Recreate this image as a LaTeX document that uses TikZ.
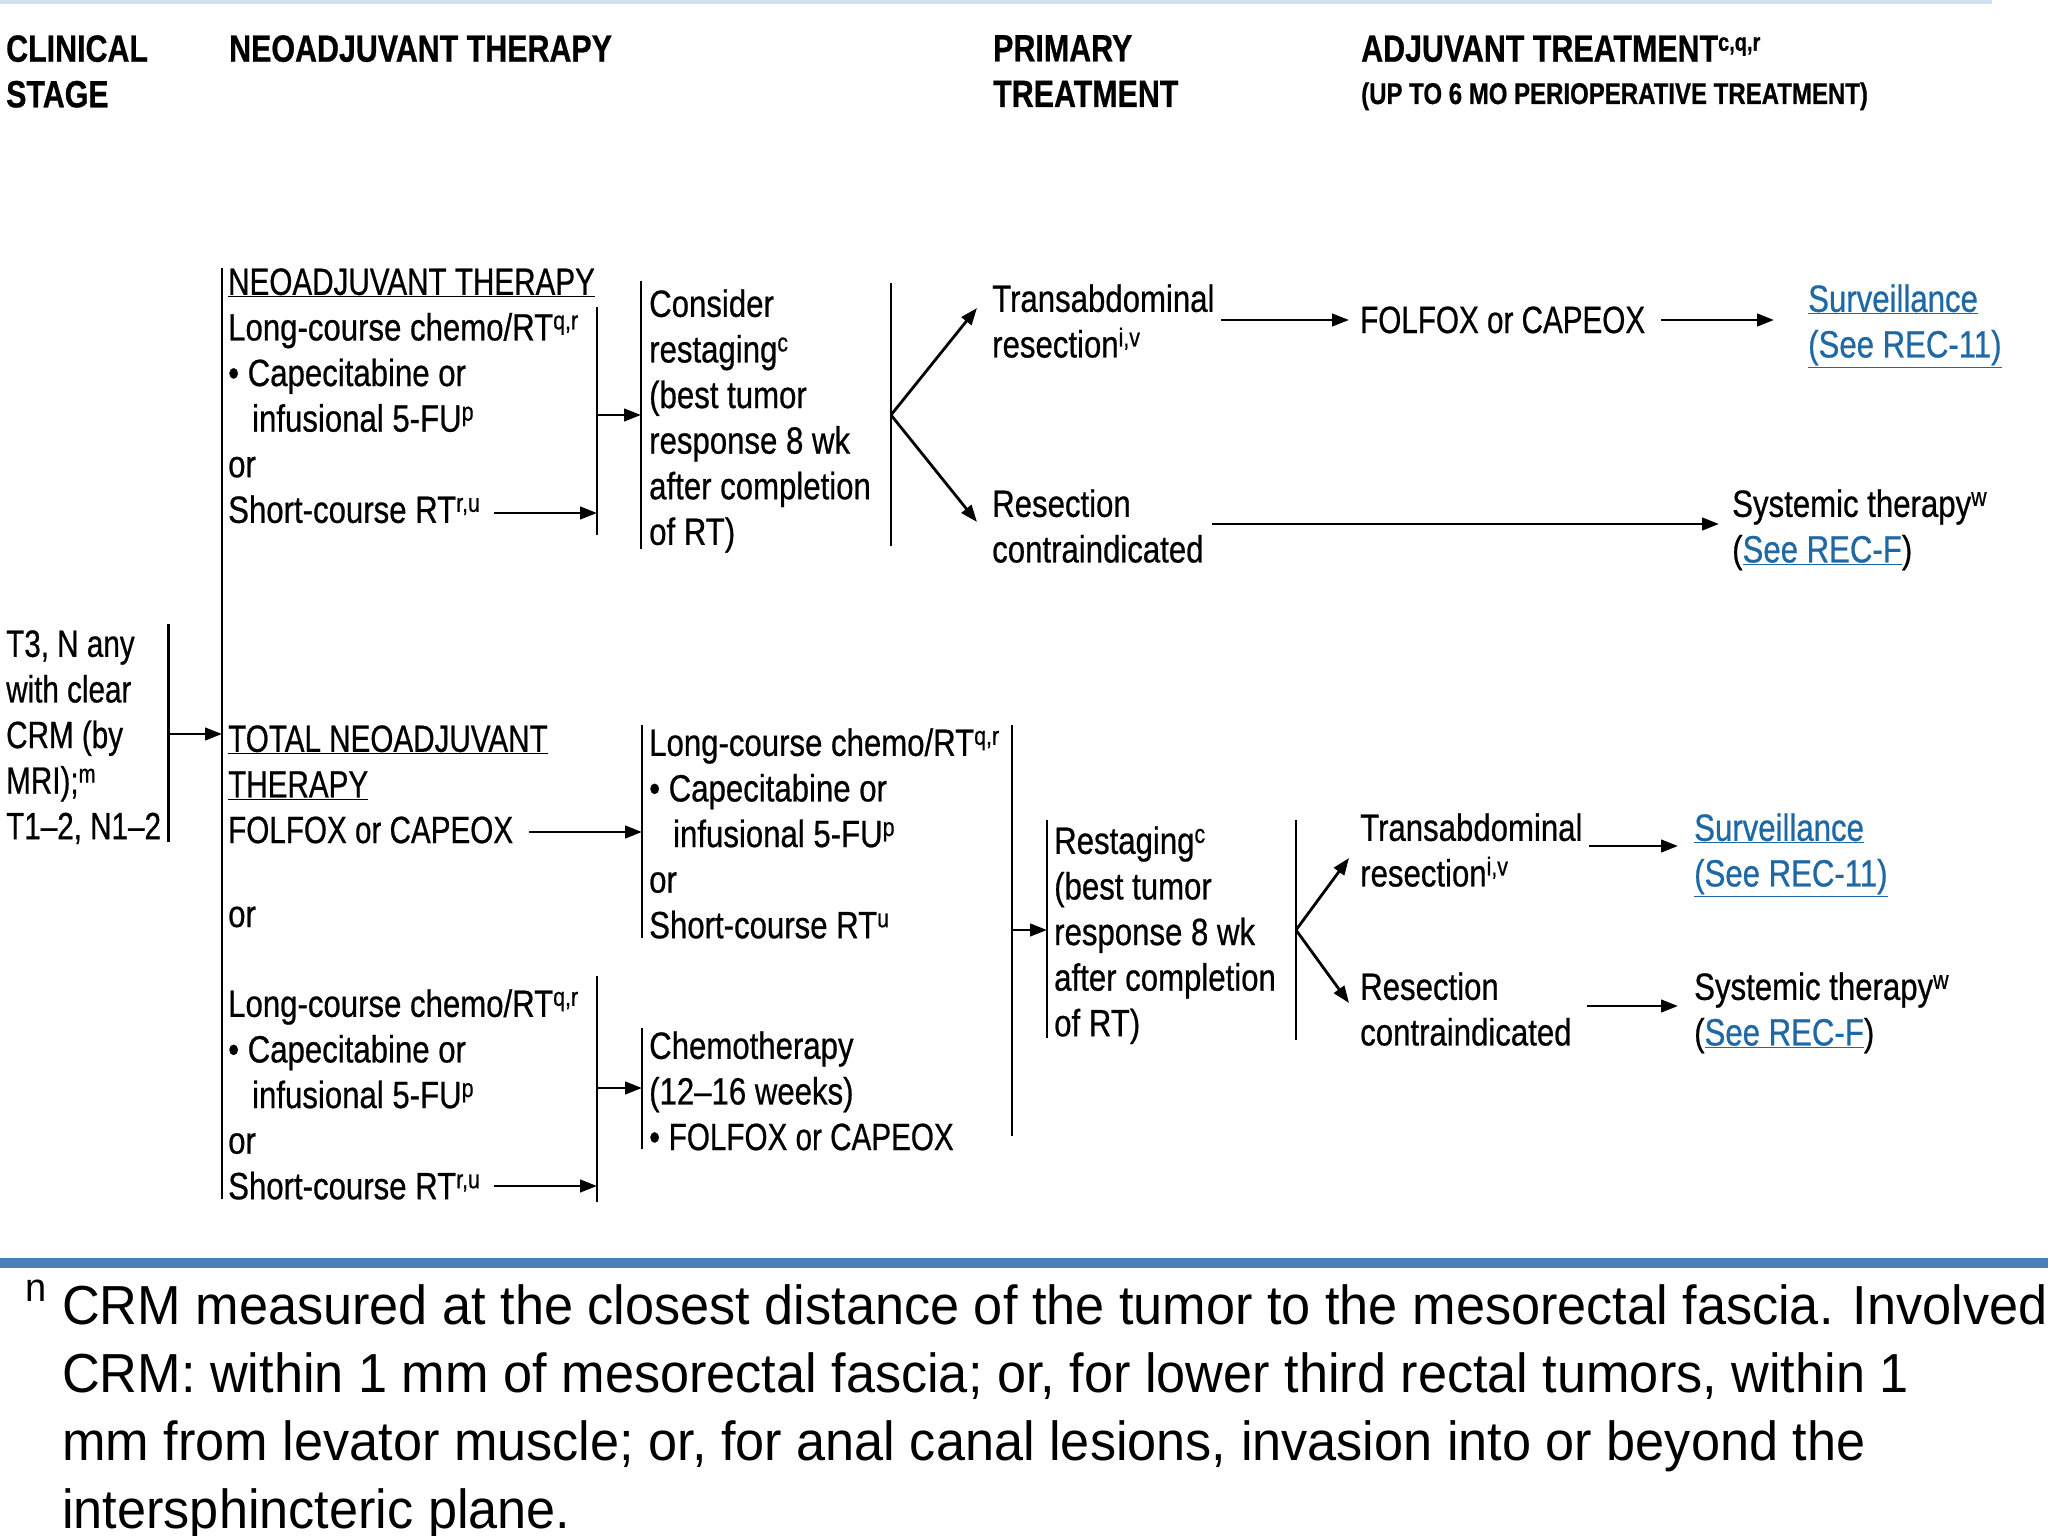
\documentclass[tikz,border=0pt]{standalone}
\usepackage{fontspec}
\setmainfont{Liberation Sans}[FakeStretch=0.82,FakeBold=0.6]
\newfontfamily\narrowfont{Liberation Sans}[FakeStretch=0.78,FakeBold=0.6,Ligatures=TeX]
\newfontfamily\headfont{Liberation Sans}[FakeStretch=0.80,FakeBold=0.6,Ligatures=TeX]
\newfontfamily\footfont{Liberation Sans}[FakeStretch=0.95]
\usetikzlibrary{arrows.meta}
\definecolor{linkblue}{RGB}{30,105,165}
\definecolor{bandblue}{RGB}{74,126,187}
\definecolor{topline}{RGB}{205,225,240}
\newcommand{\lnk}[1]{\textcolor{linkblue}{\underline{#1}}}
\newcommand{\sups}[1]{\raisebox{11pt}{\fontsize{26}{26}\selectfont #1}}
\newcommand{\hsups}[1]{\raisebox{11pt}{\fontsize{25}{25}\selectfont #1}}
\newcommand{\bul}{\hspace*{0.63em}}
\newcommand{\ul}[1]{\underline{{\narrowfont #1}}}
\begin{document}
\begin{tikzpicture}[x=1pt,y=-1pt,
  blockbase/.style={anchor=north west,inner sep=0pt,align=left,execute at begin node=\strut},
  body/.style={blockbase,font=\fontsize{38}{45.6}\selectfont,yshift=26.9pt},
  line/.style={anchor=base west,inner sep=0pt,font=\fontsize{38}{45.6}\selectfont},
  head/.style={blockbase,font=\headfont\fontsize{38}{45.6}\selectfont\bfseries,yshift=28pt},
  hline/.style={anchor=base west,inner sep=0pt,font=\headfont\fontsize{38}{45.6}\selectfont\bfseries},
  brk/.style={line width=2.2pt},
  arr/.style={line width=2.8pt,-{Triangle[length=17pt,width=12.5pt]}},
  foot/.style={anchor=north west,inner sep=0pt,align=left,font=\footfont\fontsize{55}{68}\selectfont,yshift=41.1pt,execute at begin node=\strut}]
\useasboundingbox (0,0) rectangle (2048,1536);
\fill[white] (0,0) rectangle (2048,1536);
\draw[topline,line width=4pt] (0,2) -- (1992,2);

% headers
\node[head] (hcs) at (6,63) {CLINICAL\\STAGE};
\node[hline] (hneo) at (229,61.7) {NEOADJUVANT THERAPY};
\node[head] (hpt) at (993,63) {PRIMARY\\TREATMENT};
\node[hline] (hadj) at (1361,61.7) {ADJUVANT TREATMENT\hsups{c,q,r}};
\node[anchor=base west,inner sep=0pt,font=\headfont\fontsize{30}{32}\selectfont\bfseries] (hup) at (1361,104) {(UP TO 6 MO PERIOPERATIVE TREATMENT)};

% clinical stage
\node[body,font=\narrowfont\fontsize{38}{45.6}\selectfont] (stage) at (6,657) {T3, N any\\with clear\\CRM (by\\MRI);\sups{m}\\T1–2, N1–2};
\draw[brk] (168.5,624) coordinate (v0t) -- (168.5,842) coordinate (v0b);
\draw[brk] (222,268) coordinate (v1t) -- (222,1199) coordinate (v1b);
\coordinate (a0) at (168.5,734);
\draw[arr] (a0) -- (a0 -| v1t);

% top branch
\node[body] (neo) at (228,295) {\ul{NEOADJUVANT THERAPY}\\Long-course chemo/RT\sups{q,r}\\\textbullet\ Capecitabine or\\\bul infusional 5-FU\sups{p}\\or\\Short-course RT\sups{r,u}};
\draw[brk] (597,307) coordinate (v2t) -- (597,535) coordinate (v2b);
\coordinate (s1) at (494,513);
\draw[arr] (s1) -- (s1 -| v2t);
\draw[brk] (641,281) coordinate (v3t) -- (641,549) coordinate (v3b);
\coordinate (m1) at (597,415);
\draw[arr] (m1) -- (m1 -| v3t);
\node[body] (cons) at (649,316) {Consider\\restaging\sups{c}\\(best tumor\\response 8 wk\\after completion\\of RT)};
\draw[brk] (891,283) coordinate (v4t) -- (891,546) coordinate (v4b);
\coordinate (b1) at (891,415);
\coordinate (b1u) at (977,308);
\coordinate (b1d) at (977,522);
\draw[arr] (b1) -- (b1u);
\draw[arr] (b1) -- (b1d);
\node[body] (tr1) at (992,311) {Transabdominal\\resection\sups{i,v}};
\node[line,font=\narrowfont\fontsize{38}{45.6}\selectfont] (fol1) at (1360,333) {FOLFOX or CAPEOX};
\coordinate (t1a) at (1221,320);
\coordinate (t1b) at (1349,320);
\draw[arr] (t1a) -- (t1b);
\coordinate (t1c) at (1661,320);
\coordinate (t1d) at (1774,320);
\draw[arr] (t1c) -- (t1d);
\node[body] (sur1) at (1808,311) {\lnk{Surveillance}\\\lnk{(See REC-11)}};
\node[body] (res1) at (992,516) {Resection\\contraindicated};
\coordinate (r1a) at (1212,524);
\coordinate (r1b) at (1719,524);
\draw[arr] (r1a) -- (r1b);
\node[body] (sys1) at (1732,516) {Systemic therapy\sups{w}\\(\lnk{See REC-F})};

% bottom branch
\node[body] (tnt) at (228,752) {\ul{TOTAL NEOADJUVANT}\\\ul{THERAPY}\\{\narrowfont FOLFOX or CAPEOX}};
\node[line] (or2) at (228,927) {or};
\node[body] (lc2) at (228,1016) {Long-course chemo/RT\sups{q,r}\\\textbullet\ Capecitabine or\\\bul infusional 5-FU\sups{p}\\or\\Short-course RT\sups{r,u}};
\draw[brk] (642,725) coordinate (v6t) -- (642,938) coordinate (v6b);
\draw[brk] (642,1028) coordinate (v6ct) -- (642,1149) coordinate (v6cb);
\coordinate (f2) at (529,832);
\draw[arr] (f2) -- (f2 -| v6t);
\draw[brk] (597,976) coordinate (v5t) -- (597,1202) coordinate (v5b);
\coordinate (s2) at (494,1186);
\draw[arr] (s2) -- (s2 -| v5t);
\coordinate (m2) at (597,1088);
\draw[arr] (m2) -- (m2 -| v6ct);
\node[body] (lc3) at (649,755) {Long-course chemo/RT\sups{q,r}\\\textbullet\ Capecitabine or\\\bul infusional 5-FU\sups{p}\\or\\Short-course RT\sups{u}};
\node[body] (chemo) at (649,1058) {Chemotherapy\\(12--16 weeks)\\\textbullet\ {\narrowfont FOLFOX or CAPEOX}};
\draw[brk] (1012,725) coordinate (v7t) -- (1012,1136) coordinate (v7b);
\draw[brk] (1047,820) coordinate (v8t) -- (1047,1038) coordinate (v8b);
\coordinate (m3) at (1012,930);
\draw[arr] (m3) -- (m3 -| v8t);
\node[body] (rest) at (1054,853) {Restaging\sups{c}\\(best tumor\\response 8 wk\\after completion\\of RT)};
\draw[brk] (1296,820) coordinate (v9t) -- (1296,1040) coordinate (v9b);
\coordinate (b2) at (1296,930);
\coordinate (b2u) at (1349,858);
\coordinate (b2d) at (1349,1003);
\draw[arr] (b2) -- (b2u);
\draw[arr] (b2) -- (b2d);
\node[body] (tr2) at (1360,840) {Transabdominal\\resection\sups{i,v}};
\coordinate (t2a) at (1589,846);
\coordinate (t2b) at (1678,846);
\draw[arr] (t2a) -- (t2b);
\node[body] (sur2) at (1694,840) {\lnk{Surveillance}\\\lnk{(See REC-11)}};
\node[body] (res2) at (1360,999) {Resection\\contraindicated};
\coordinate (r2a) at (1587,1006);
\coordinate (r2b) at (1678,1006);
\draw[arr] (r2a) -- (r2b);
\node[body] (sys2) at (1694,999) {Systemic therapy\sups{w}\\(\lnk{See REC-F})};

% footnote
\fill[bandblue] (0,1258) rectangle (2048,1268);
\node[anchor=base west,inner sep=0pt,font=\footfont\fontsize{40}{44}\selectfont] (fnn) at (25,1301) {n};
\node[foot] (fn) at (62,1326) {CRM measured at the closest distance of the tumor to the mesorectal fascia. Involved\\CRM: within 1 mm of mesorectal fascia; or, for lower third rectal tumors, within 1\\mm from levator muscle; or, for anal canal lesions, invasion into or beyond the\\intersphincteric plane.};
\end{tikzpicture}
\end{document}
